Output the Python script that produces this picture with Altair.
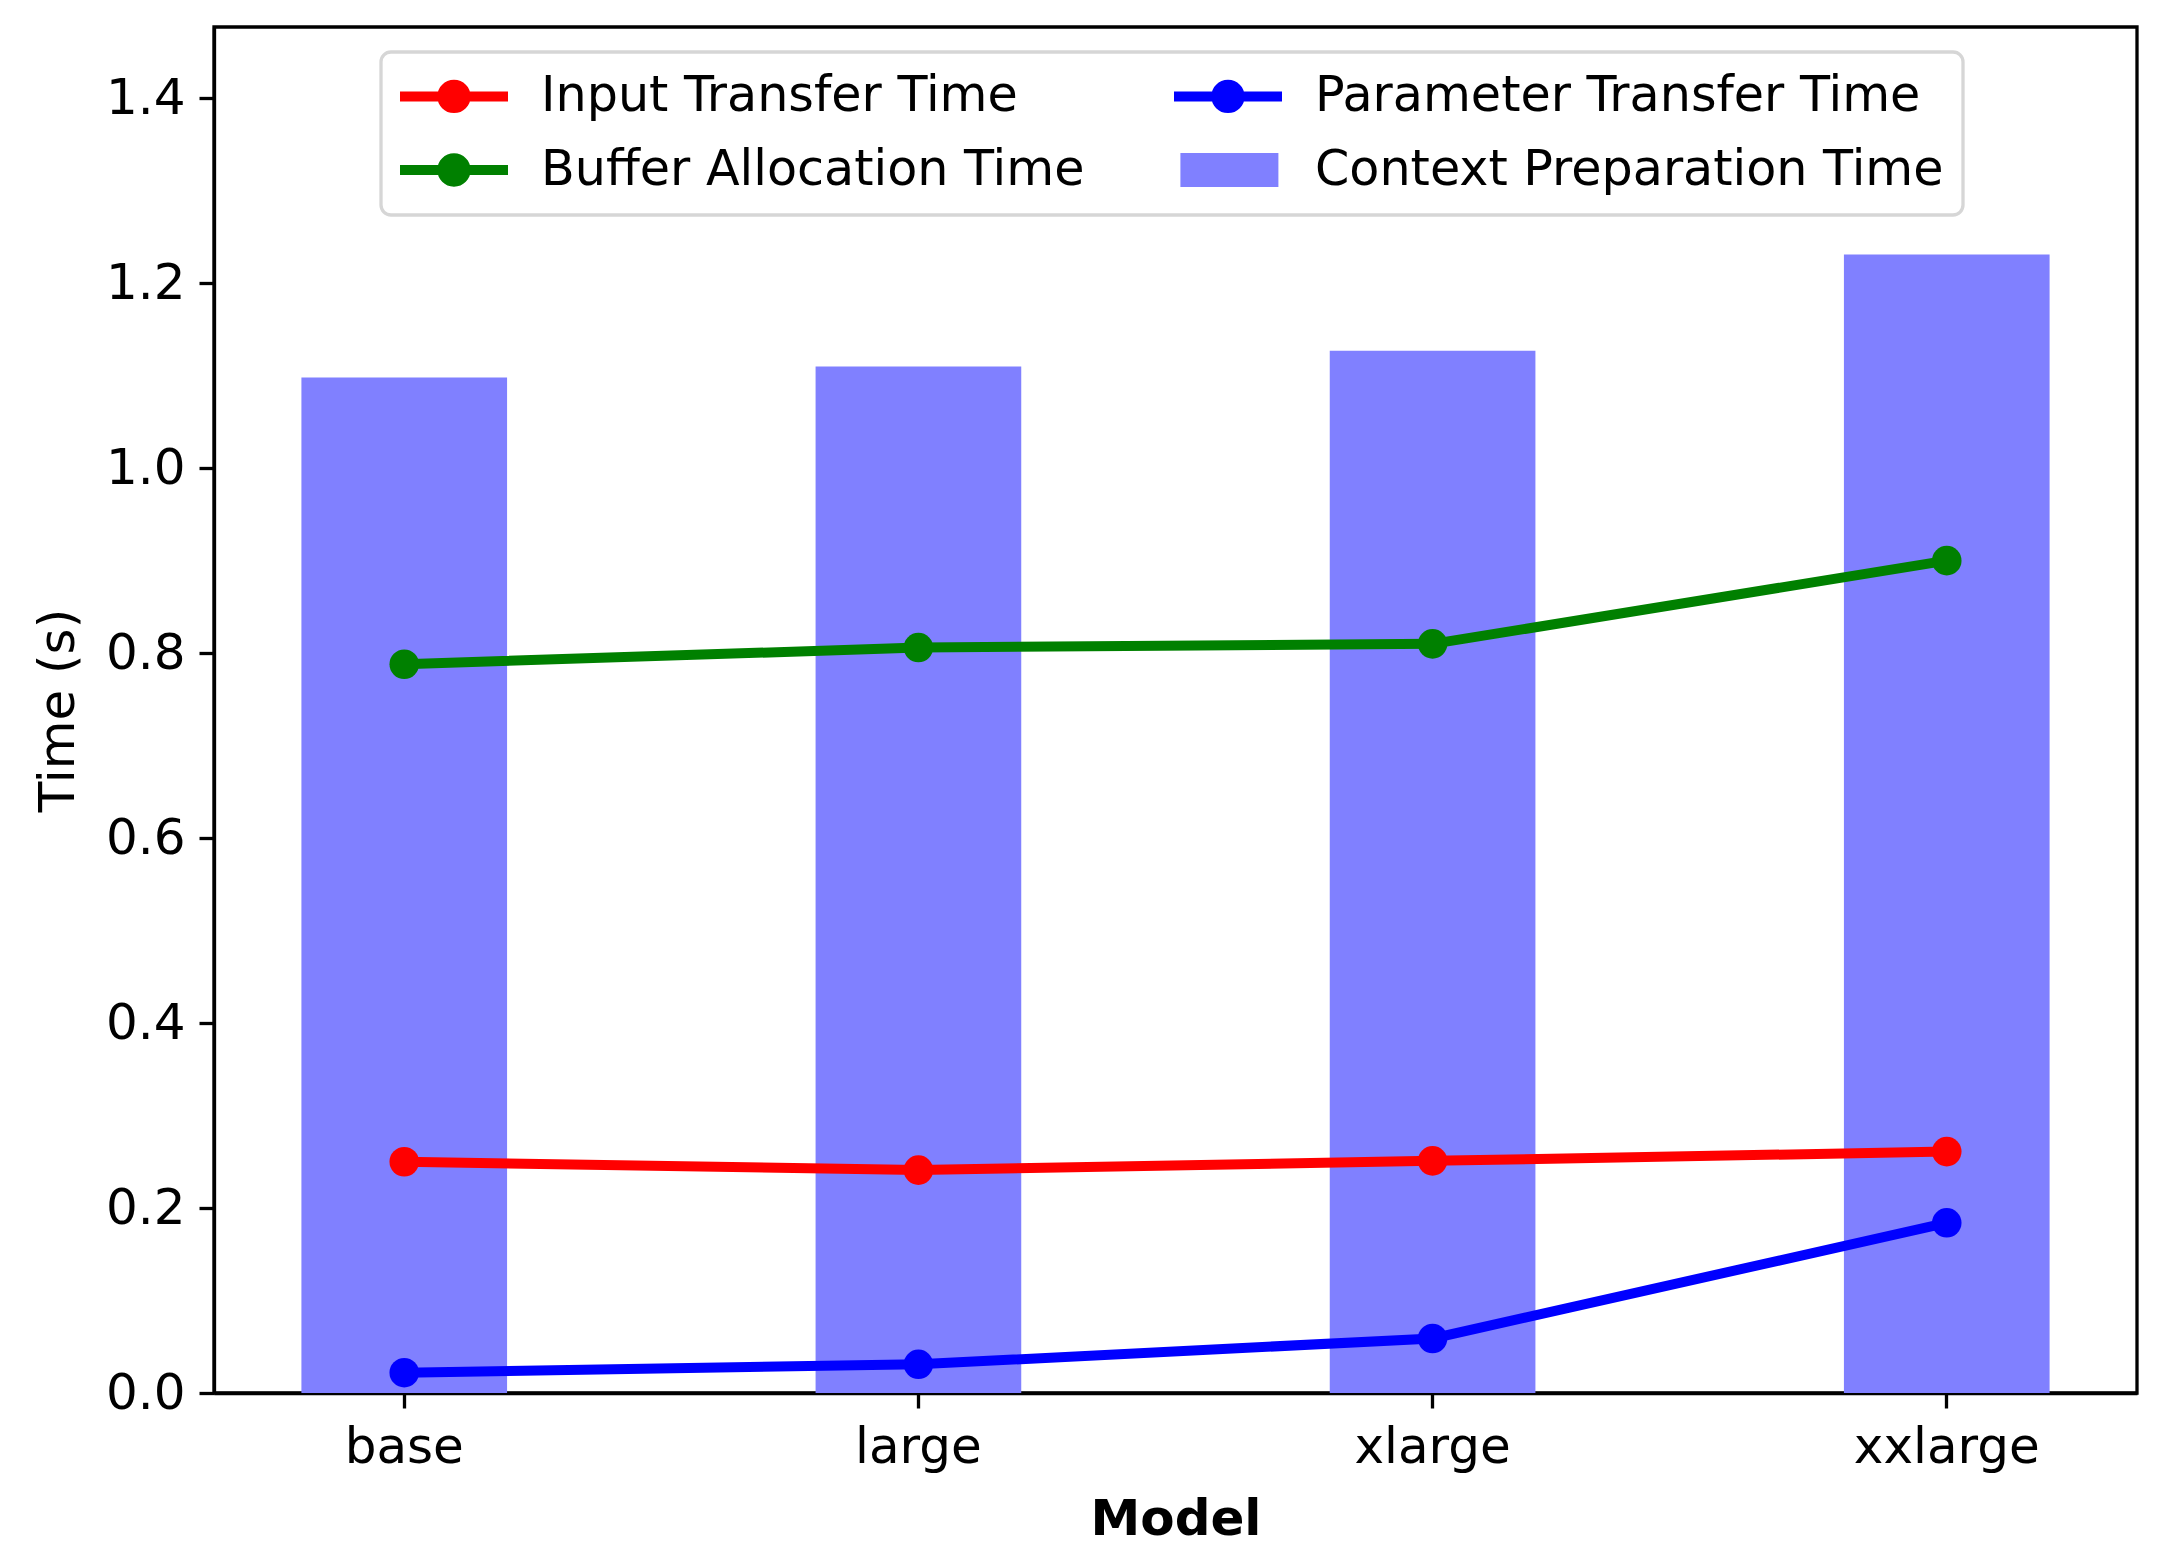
import altair as alt
import pandas as pd

# ---- data ----
models = ["base", "large", "xlarge", "xxlarge"]
input_transfer = [0.250, 0.241, 0.251, 0.261]
param_transfer = [0.022, 0.031, 0.059, 0.184]
buffer_alloc = [0.788, 0.806, 0.810, 0.900]
context_prep = [1.098, 1.110, 1.127, 1.231]

# legend order (filled column by column)
series_names = ["Input Transfer Time", "Buffer Allocation Time",
                "Parameter Transfer Time", "Context Preparation Time"]
series_colors = ["#ff0000", "#008000", "#0000ff", "#8080ff"]
y_ticks = [0.0, 0.2, 0.4, 0.6, 0.8, 1.0, 1.2, 1.4]

# legend symbols (line with marker, and a patch for the bars)
line_marker = ("M-1,-0.2H3.32V0.2H-1Z "
               "M0.492,0A0.668,0.668 0 1 1 1.828,0A0.668,0.668 0 1 1 0.492,0Z")
patch = "M-0.744,-0.68H3.176V0.68H-0.744Z"
symbol_paths = [line_marker, line_marker, line_marker, patch]

bar_df = pd.DataFrame({"model": models, "value": context_prep})

line_series = {
    "Input Transfer Time": input_transfer,
    "Buffer Allocation Time": buffer_alloc,
    "Parameter Transfer Time": param_transfer,
}
rows = []
for name, vals in line_series.items():
    for m, v in zip(models, vals):
        rows.append({"model": m, "value": v, "series": name})
line_df = pd.DataFrame(rows)

FONT = "DejaVu Sans"

x_enc = alt.X(
    "model:N", sort=models, title="Model",
    scale=alt.Scale(type="band", paddingInner=0.6, paddingOuter=0.17),
    axis=alt.Axis(labelAngle=0, labelPadding=14, titlePadding=22,
                  titleFontWeight="bold", labelLimit=1000),
)
y_scale = alt.Scale(domain=[0, 1.477], nice=False, zero=True)
y_axis = alt.Axis(values=y_ticks, format=".1f", labelPadding=14,
                  titlePadding=22, titleFontWeight="normal")
y_enc = alt.Y("value:Q", title="Time (s)", scale=y_scale, axis=y_axis)

color_scale = alt.Scale(domain=series_names, range=series_colors)
shape_scale = alt.Scale(domain=series_names, range=symbol_paths)

legend = alt.Legend(
    title=None, orient="none", legendX=167, legendY=25, columns=2,
    columnPadding=89, rowPadding=23, symbolSize=2500, symbolStrokeWidth=0,
    symbolOpacity=1, labelFont=FONT, labelFontSize=49.2, labelColor="black",
    labelOffset=91, labelLimit=1200,
)

bars = alt.Chart(bar_df).mark_bar(color="#8080ff").encode(x=x_enc, y=y_enc)

lines = alt.Chart(line_df).mark_line(strokeWidth=10).encode(
    x=x_enc, y=y_enc,
    color=alt.Color("series:N", scale=color_scale, legend=legend),
    detail="series:N",
)

points = alt.Chart(line_df).mark_point(
    filled=True, size=873, opacity=1, shape="circle", strokeWidth=0
).encode(
    x=x_enc, y=y_enc,
    color=alt.Color("series:N", scale=color_scale, legend=legend),
)

# invisible layer that only carries the legend symbols
legend_layer = alt.Chart(line_df).mark_point(filled=True, opacity=0).encode(
    x=x_enc, y=y_enc,
    color=alt.Color("series:N", scale=color_scale, legend=legend),
    shape=alt.Shape("series:N", scale=shape_scale, legend=legend),
)

chart = alt.layer(bars, lines, points, legend_layer).properties(
    width=1923, height=1366,
    padding={"left": 206, "top": 19, "right": 19, "bottom": 163},
    autosize=alt.AutoSizeParams(type="none"),
).configure_view(
    stroke="black", strokeWidth=3.3,
).configure_axis(
    grid=False, domain=True, domainColor="black", domainWidth=3.3,
    ticks=True, tickColor="black", tickWidth=3.3, tickSize=15,
    labelFont=FONT, labelFontSize=50, labelColor="black",
    titleFont=FONT, titleFontSize=50, titleColor="black", zindex=1,
).configure_legend(
    fillColor="white", strokeColor="#d6d6d6", strokeWidth=3.3,
    cornerRadius=10, padding=19,
)

chart.save("out.html", embed_options={"renderer": "svg", "actions": False})
